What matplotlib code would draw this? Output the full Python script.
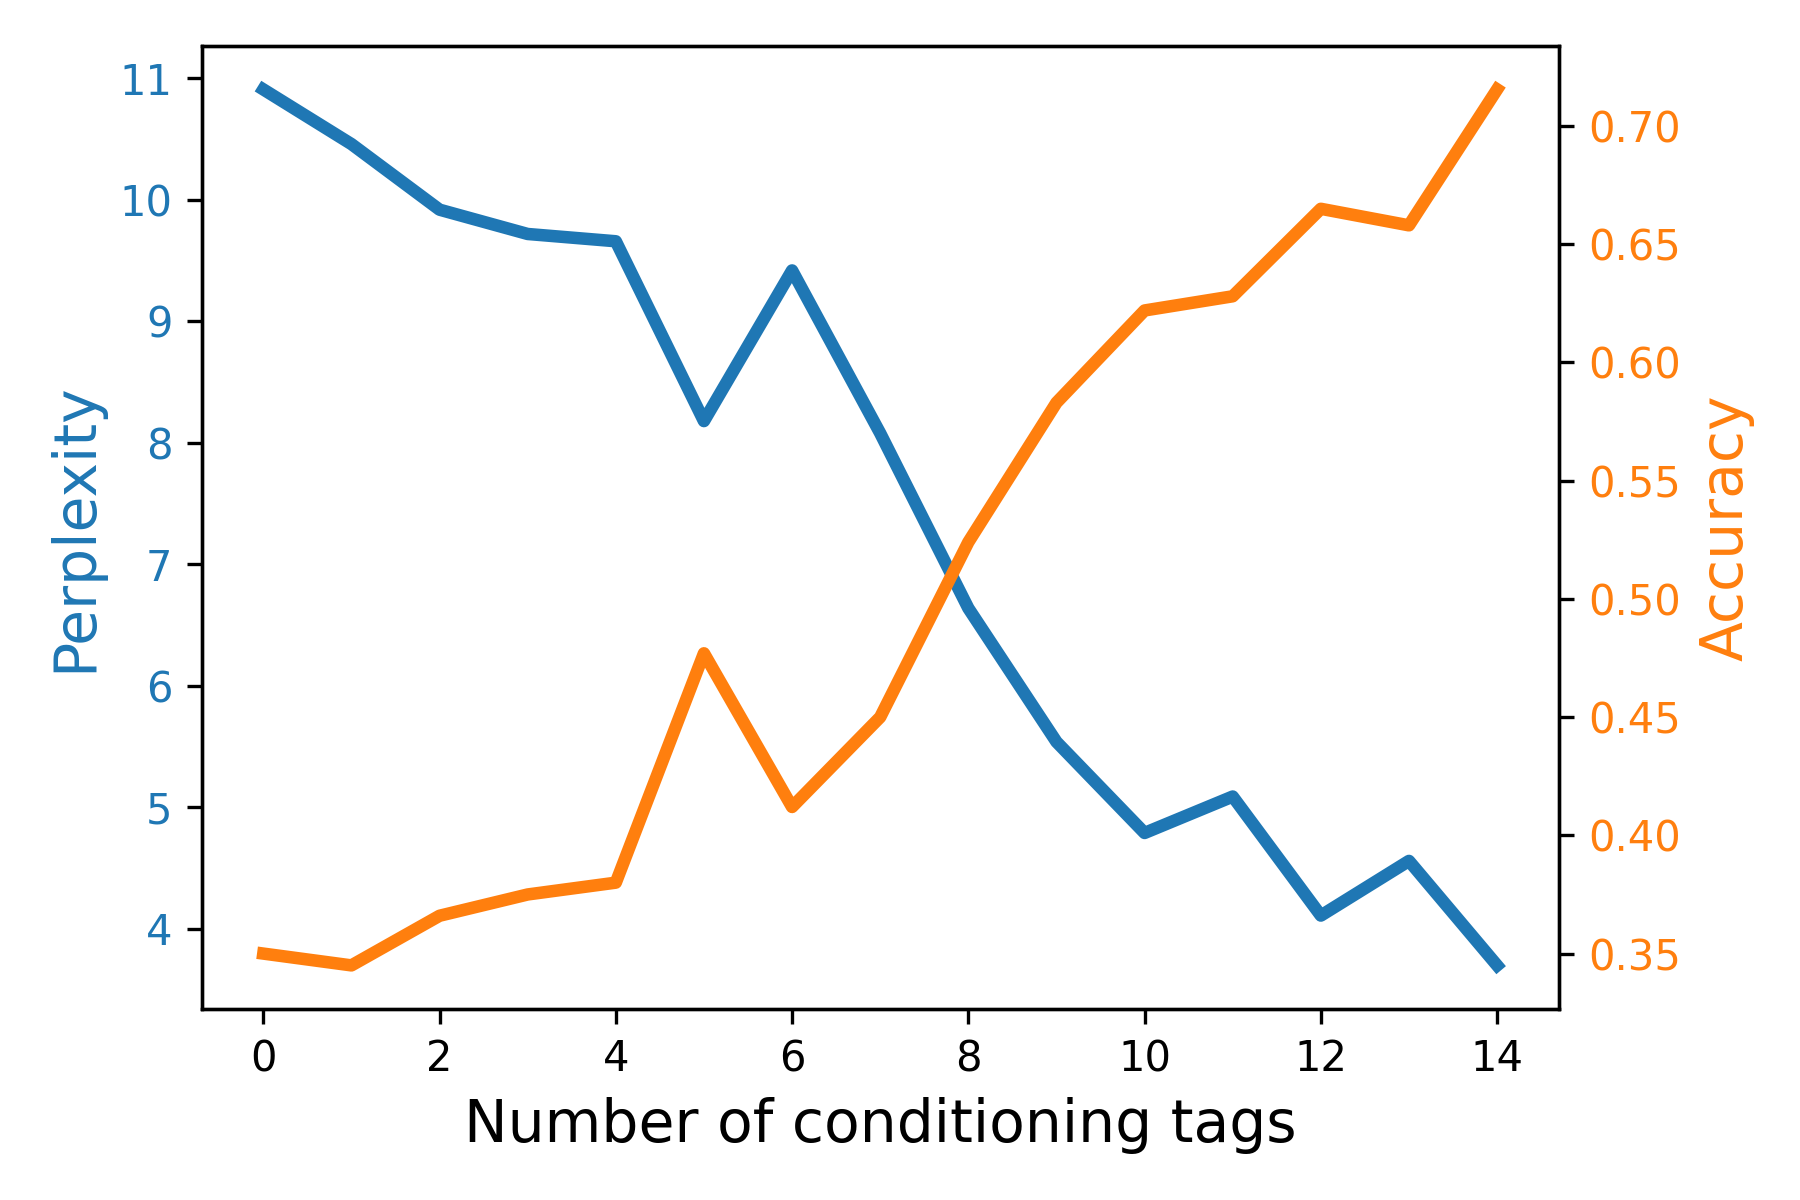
import matplotlib
matplotlib.use("Agg")
import matplotlib.pyplot as plt

# number of conditioning tags vs. perplexity / accuracy
n_tags = list(range(15))
perplexity = [10.91, 10.46, 9.92, 9.72, 9.66, 8.18, 9.42, 8.08, 6.64, 5.54,
              4.79, 5.09, 4.11, 4.56, 3.70]
accuracy = [0.350, 0.345, 0.366, 0.375, 0.380, 0.477, 0.412, 0.450, 0.524, 0.583,
            0.622, 0.628, 0.665, 0.658, 0.7155]

BLUE, ORANGE = "#1f77b4", "#ff7f0e"

fig, ax1 = plt.subplots(figsize=(6, 4), dpi=300)
fig.subplots_adjust(left=0.112, right=0.866, top=0.962, bottom=0.159)

ax1.plot(n_tags, perplexity, color=BLUE, lw=3)
ax1.set_xlabel("Number of conditioning tags", fontsize=14)
ax1.set_ylabel("Perplexity", color=BLUE, fontsize=14)
ax1.tick_params(axis="y", labelcolor=BLUE)
ax1.set_xticks(range(0, 15, 2))

ax2 = ax1.twinx()
ax2.plot(n_tags, accuracy, color=ORANGE, lw=3)
ax2.set_ylabel("Accuracy", color=ORANGE, fontsize=14)
ax2.tick_params(axis="y", labelcolor=ORANGE)

fig.savefig("out.png", dpi=300)
